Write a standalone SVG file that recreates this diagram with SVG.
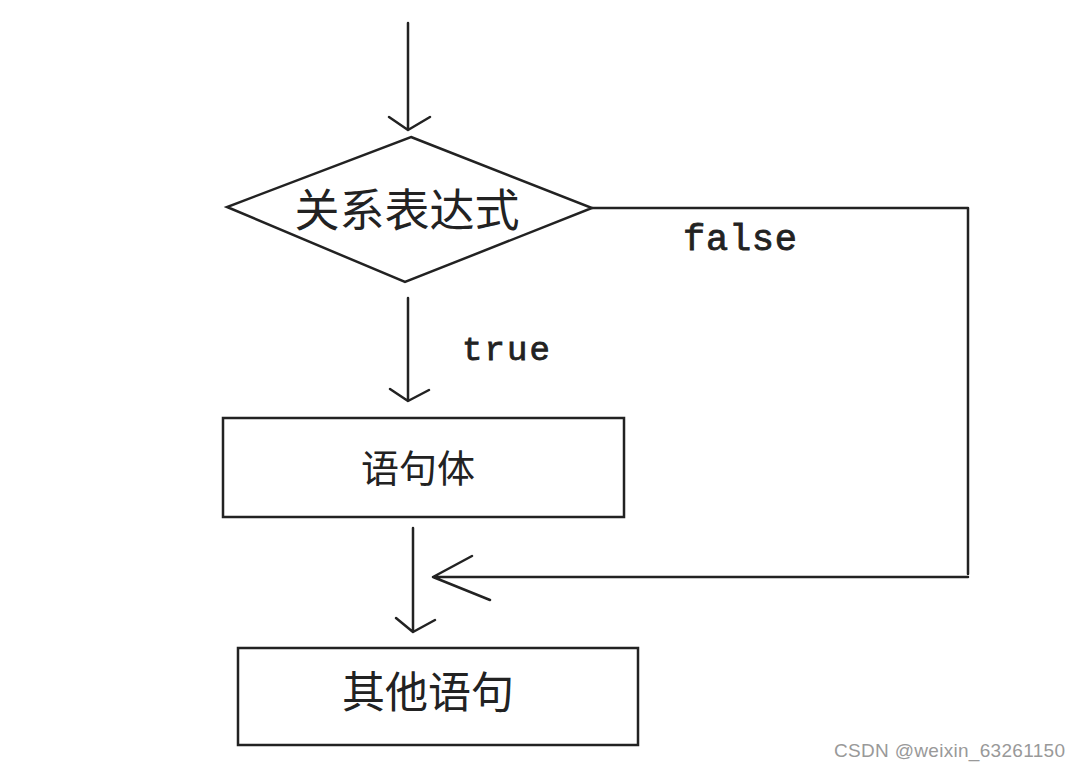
<svg xmlns="http://www.w3.org/2000/svg" width="1081" height="767" viewBox="0 0 1081 767">
<style>
.ln{fill:none;stroke:#222;stroke-width:2.5;stroke-linecap:round;stroke-linejoin:round}
.sh{fill:#fff;stroke:#222;stroke-width:2.5}
.cjk{font-family:"Noto Sans CJK SC","Liberation Sans",sans-serif;fill:#222;text-anchor:middle}
.mono{font-family:"Liberation Mono","DejaVu Sans Mono",monospace;fill:#222;stroke:#222;stroke-width:0.8}
.wm{font-family:"Liberation Sans",Arial,sans-serif;fill:#999;font-size:19px}
</style>
<rect width="1081" height="767" fill="#fff"/>
<g id="connectors">
<path class="ln" d="M408 23 V128 M389 117 L408 130 L430 117"/>
<path class="ln" d="M408 298 V400 M390 389 L408 401 L429 390"/>
<path class="ln" d="M413 528 V631 M396 618 L413 632 L435 620"/>
<path class="ln" d="M592 208 H968 V574"/>
<path class="ln" d="M968 577 H433 M472 556 L433 577 L490 600"/>
</g>
<g id="decision">
<polygon class="sh" points="411,137 592,208 405,282 227,207"/>
<text class="cjk" x="407" y="227" font-size="45">关系表达式</text>
</g>
<g id="label-false"><text class="mono" x="683" y="250" font-size="37" textLength="114">false</text></g>
<g id="label-true"><text class="mono" x="462" y="360" font-size="34" textLength="88">true</text></g>
<g id="body">
<rect class="sh" x="223" y="418" width="401" height="99"/>
<text class="cjk" x="418" y="482" font-size="38">语句体</text>
</g>
<g id="other">
<rect class="sh" x="238" y="648" width="400" height="97"/>
<text class="cjk" x="428" y="708" font-size="43">其他语句</text>
</g>
<text class="wm" x="834" y="757" textLength="231">CSDN @weixin_63261150</text>
</svg>
